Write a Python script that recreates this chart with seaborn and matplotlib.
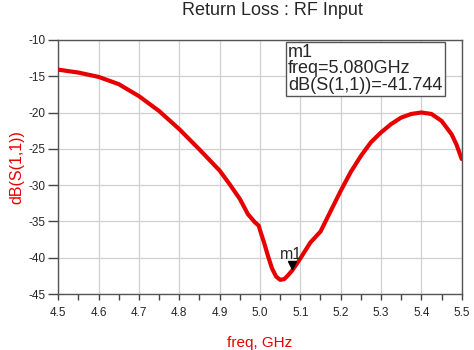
import matplotlib
matplotlib.use("Agg")
import matplotlib.pyplot as plt
import seaborn as sns
import pandas as pd
from matplotlib.ticker import MultipleLocator

freq = [4.5, 4.55, 4.6, 4.65, 4.7, 4.75, 4.8, 4.85, 4.9, 4.925, 4.95, 4.97, 4.987,
        4.997, 5.0, 5.01, 5.02, 5.03, 5.04, 5.05, 5.06, 5.07, 5.08, 5.09, 5.1,
        5.125, 5.15, 5.175, 5.2, 5.225, 5.25, 5.275, 5.3, 5.325, 5.35, 5.375,
        5.4, 5.425, 5.45, 5.475, 5.487, 5.5]
db = [-14.1, -14.5, -15.1, -16.1, -17.75, -19.8, -22.3, -25.1, -28.0, -29.9, -31.9, -34.0, -35.1,
      -35.6, -36.2, -37.9, -39.8, -41.5, -42.6, -43.05, -42.95, -42.4, -41.74, -40.95, -40.1,
      -37.9, -36.4, -33.6, -30.8, -28.2, -26.0, -24.1, -22.75, -21.6, -20.7, -20.2,
      -20.0, -20.2, -21.15, -23.0, -24.4, -26.4]
marker_freq = 5.080
marker_db = -41.744
x_ticks = [4.5, 4.6, 4.7, 4.8, 4.9, 5.0, 5.1, 5.2, 5.3, 5.4, 5.5]
y_ticks = [-45, -40, -35, -30, -25, -20, -15, -10]

sns.set_style("white")
plt.rcParams['font.family'] = ['Liberation Sans', 'DejaVu Sans']

fig = plt.figure(figsize=(4.74, 3.5), dpi=100)
ax = fig.add_axes([0.123, 0.16, 0.851, 0.726])

df = pd.DataFrame({"freq": freq, "db": db})
sns.lineplot(data=df, x="freq", y="db", ax=ax, color="#e60000", linewidth=3.0,
             solid_joinstyle="round", solid_capstyle="round", zorder=3)

ax.set_xlim(4.5, 5.5)
ax.set_ylim(-45, -10)
ax.set_xticks(x_ticks)
ax.set_xticklabels([f"{t:.1f}" for t in x_ticks])
ax.set_yticks(y_ticks)
ax.set_yticklabels([str(t) for t in y_ticks])
ax.xaxis.set_minor_locator(MultipleLocator(0.05))
ax.grid(True, which="major", color="#d0d0d0", linewidth=0.9)
ax.tick_params(axis="x", which="both", direction="out", length=4.5, width=1,
               color="#444444", labelsize=8.5, pad=5, bottom=True)
ax.tick_params(axis="y", which="major", direction="out", length=7, width=1,
               color="#444444", labelsize=8.5, pad=2, left=True)
for s in ax.spines.values():
    s.set_color("#555555")
    s.set_linewidth(1.0)

ax.set_xlabel("freq, GHz", color="#e60000", fontsize=11, labelpad=12)
ax.set_ylabel("dB(S(1,1))", color="#e60000", fontsize=11.5, labelpad=3)
fig.text(0.574, 0.971, "Return Loss : RF Input", ha="center", va="center", fontsize=13)

# marker
ax.plot([marker_freq], [marker_db + 0.7], marker="v", color="black", markersize=6, zorder=4)
ax.text(marker_freq - 0.003, marker_db + 1.2, "m1", ha="center", va="bottom", fontsize=11.5, zorder=5)

ax.text(0.57, 0.985, f"m1\nfreq={marker_freq:.3f}GHz\ndB(S(1,1))={marker_db:.3f}",
        transform=ax.transAxes, ha="left", va="top", fontsize=13, linespacing=0.97,
        bbox=dict(boxstyle="square,pad=0.12", facecolor="white", edgecolor="#555555", linewidth=1.0),
        zorder=6)

fig.savefig("out.png", dpi=100)
